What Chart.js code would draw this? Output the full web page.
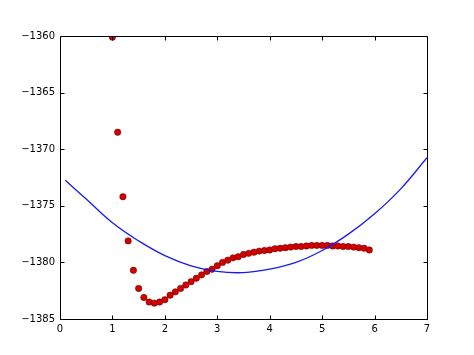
<!DOCTYPE html>
<html>
<head>
<meta charset="utf-8">
<script src="https://cdn.jsdelivr.net/npm/chart.js@4/dist/chart.umd.min.js"></script>
<style>
  html, body { margin: 0; padding: 0; background: #fff; }
  #wrap { width: 474px; height: 355px; }
</style>
</head>
<body>
<div id="wrap"><canvas id="myChart" width="474" height="355"></canvas></div>
<script>
// measured points (red dots)
const pointX = [1.0, 1.1, 1.2, 1.3, 1.4, 1.5, 1.6, 1.7, 1.8, 1.9,
                2.0, 2.1, 2.2, 2.3, 2.4, 2.5, 2.6, 2.7, 2.8, 2.9,
                3.0, 3.1, 3.2, 3.3, 3.4, 3.5, 3.6, 3.7, 3.8, 3.9,
                4.0, 4.1, 4.2, 4.3, 4.4, 4.5, 4.6, 4.7, 4.8, 4.9,
                5.0, 5.1, 5.2, 5.3, 5.4, 5.5, 5.6, 5.7, 5.8, 5.9];
const pointY = [-1360.1, -1368.5, -1374.2, -1378.1, -1380.7, -1382.3, -1383.1, -1383.5, -1383.6, -1383.5,
                -1383.3, -1382.9, -1382.6, -1382.3, -1382.0, -1381.7, -1381.4, -1381.1, -1380.8, -1380.6,
                -1380.3, -1380.0, -1379.8, -1379.6, -1379.5, -1379.3, -1379.2, -1379.1, -1379.0, -1378.95,
                -1378.9, -1378.8, -1378.75, -1378.7, -1378.65, -1378.6, -1378.6, -1378.55, -1378.5, -1378.5,
                -1378.5, -1378.5, -1378.55, -1378.55, -1378.6, -1378.6, -1378.65, -1378.7, -1378.75, -1378.9];

// fitted curve (blue line)
const fitX = [0.1, 0.5, 1.0, 1.5, 2.0, 2.5, 3.0, 3.5, 4.0, 4.5, 5.0, 5.5, 6.0, 6.5, 7.0];
const fitY = [-1372.75, -1374.4, -1376.5, -1378.1, -1379.4, -1380.3, -1380.8, -1380.9, -1380.6, -1380.0,
              -1378.95, -1377.5, -1375.7, -1373.5, -1370.75];

const xTicks = [0, 1, 2, 3, 4, 5, 6, 7];
const yTicks = [-1385, -1380, -1375, -1370, -1365, -1360];

const fmt = v => (v < 0 ? '\u2212' + Math.abs(v) : String(v));

// matplotlib-like frame with inward ticks on all four sides
const frameTicks = {
  id: 'frameTicks',
  afterDraw(chart) {
    const ctx = chart.ctx;
    const a = chart.chartArea;
    const xs = chart.scales.x, ys = chart.scales.y;
    const L = Math.round(a.left) + 0.5, R = Math.round(a.right) + 0.5;
    const T = Math.round(a.top) + 0.5, B = Math.round(a.bottom) + 0.5;
    ctx.save();
    ctx.strokeStyle = '#000';
    ctx.lineWidth = 1;
    ctx.beginPath();
    ctx.rect(L, T, R - L, B - T);
    xTicks.forEach(v => {
      const p = Math.round(xs.getPixelForValue(v)) + 0.5;
      ctx.moveTo(p, B); ctx.lineTo(p, B - 4);
      ctx.moveTo(p, T); ctx.lineTo(p, T + 4);
    });
    yTicks.forEach(v => {
      const p = Math.round(ys.getPixelForValue(v)) + 0.5;
      ctx.moveTo(L, p); ctx.lineTo(L + 4, p);
      ctx.moveTo(R, p); ctx.lineTo(R - 4, p);
    });
    ctx.stroke();
    ctx.restore();
  }
};

const ctx = document.getElementById('myChart').getContext('2d');
const myChart = new Chart(ctx, {
  type: 'scatter',
  data: {
    datasets: [
      {
        type: 'line',
        label: 'fit',
        data: fitX.map((x, i) => ({ x: x, y: fitY[i] })),
        borderColor: '#1a1aee',
        borderWidth: 1.3,
        pointRadius: 0,
        fill: false,
        tension: 0.4,
        clip: 0,
        order: 0
      },
      {
        label: 'data',
        data: pointX.map((x, i) => ({ x: x, y: pointY[i] })),
        backgroundColor: '#d40000',
        borderColor: '#500000',
        borderWidth: 0.5,
        pointRadius: 3.2,
        clip: 0,
        order: 1
      }
    ]
  },
  options: {
    responsive: false,
    animation: false,
    layout: { padding: { top: 36, right: 47, left: 0, bottom: 0 } },
    plugins: { legend: { display: false }, tooltip: { enabled: false } },
    scales: {
      x: {
        type: 'linear',
        min: 0,
        max: 7,
        afterFit: s => { s.height = 36; },
        afterBuildTicks: s => { s.ticks = xTicks.map(v => ({ value: v })); },
        grid: { display: false, drawTicks: false },
        border: { display: false },
        ticks: {
          padding: 4,
          color: '#000',
          font: { family: 'DejaVu Sans', size: 10 },
          maxRotation: 0,
          callback: v => fmt(v)
        }
      },
      y: {
        type: 'linear',
        min: -1385,
        max: -1360,
        afterFit: s => { s.width = 60; },
        afterBuildTicks: s => { s.ticks = yTicks.map(v => ({ value: v })); },
        grid: { display: false, drawTicks: false },
        border: { display: false },
        ticks: {
          padding: 5,
          color: '#000',
          font: { family: 'DejaVu Sans', size: 10 },
          callback: v => fmt(v)
        }
      }
    }
  },
  plugins: [frameTicks]
});
</script>
</body>
</html>
